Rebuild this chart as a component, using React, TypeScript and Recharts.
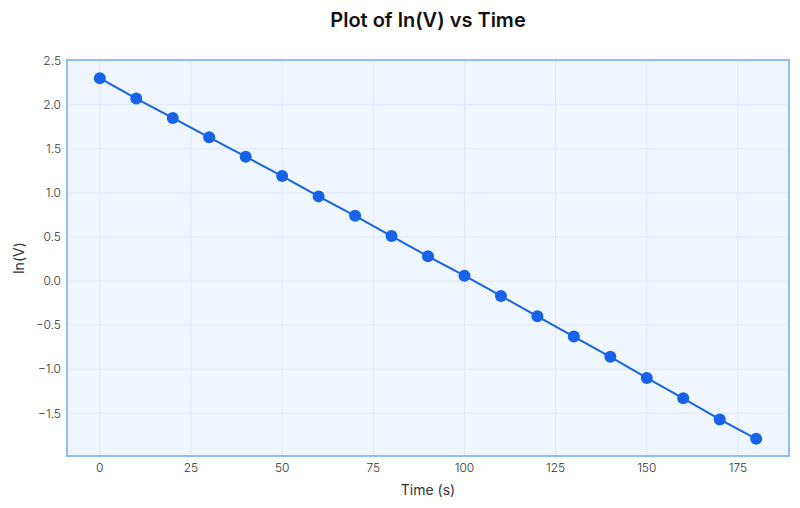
import React from 'react';
import { LineChart, Line, XAxis, YAxis, CartesianGrid, ReferenceArea, Label } from 'recharts';

const times = [0, 10, 20, 30, 40, 50, 60, 70, 80, 90, 100, 110, 120, 130, 140, 150, 160, 170, 180];
const lnV = [2.30, 2.07, 1.85, 1.63, 1.41, 1.19, 0.96, 0.74, 0.51, 0.28, 0.06, -0.17, -0.40, -0.63, -0.86, -1.10, -1.33, -1.57, -1.79];
const xTicks = [0, 25, 50, 75, 100, 125, 150, 175];
const yTicks = [-1.5, -1, -0.5, 0, 0.5, 1, 1.5, 2, 2.5];

const data = times.map((t, i) => ({ t, v: lnV[i] }));

const FONT = 'Inter, "Noto Sans", sans-serif';
const BLUE = '#1663e8';
const X_DOMAIN: [number, number] = [-9, 189];
const Y_DOMAIN: [number, number] = [-1.985, 2.507];

const fmtY = (v: number) => {
  const s = Math.abs(v).toFixed(1);
  return v < 0 ? '\u2212' + s : s;
};

export default function App() {
  return (
    <div style={{ position: 'absolute', left: 0, top: 0, width: 800, height: 508, background: '#fff', fontFamily: FONT }}>
      <div
        style={{
          position: 'absolute',
          left: 57,
          width: 742,
          top: 8,
          textAlign: 'center',
          fontSize: 20,
          fontWeight: 600,
          color: '#111',
          fontFamily: FONT,
        }}
      >
        Plot of ln(V) vs Time
      </div>
      <LineChart width={800} height={508} data={data} margin={{ top: 60, right: 11, bottom: 22, left: 17 }}>
        <CartesianGrid stroke="#dce8fb" strokeWidth={1} fill="#f0f6fe" horizontalValues={yTicks} verticalValues={xTicks} />
        <XAxis
          dataKey="t"
          type="number"
          domain={X_DOMAIN}
          ticks={xTicks}
          allowDataOverflow
          axisLine={false}
          tickLine={false}
          tickSize={0}
          tickMargin={7}
          height={30}
          tick={{ fontSize: 12, fill: '#333', fontFamily: FONT, fontWeight: 300 }}
        >
          <Label value="Time (s)" position="insideBottom" offset={-9} style={{ fontSize: 14, fill: '#333', fontFamily: FONT }} />
        </XAxis>
        <YAxis
          type="number"
          domain={Y_DOMAIN}
          ticks={yTicks}
          allowDataOverflow
          axisLine={false}
          tickLine={false}
          tickSize={0}
          tickMargin={6}
          width={50}
          tickFormatter={fmtY}
          tick={{ fontSize: 12, fill: '#333', fontFamily: FONT, fontWeight: 300 }}
        >
          <Label
            value="ln(V)"
            angle={-90}
            position="insideLeft"
            offset={2}
            style={{ fontSize: 14, fill: '#333', fontFamily: FONT, textAnchor: 'middle' }}
          />
        </YAxis>
        <ReferenceArea
          x1={X_DOMAIN[0]}
          x2={X_DOMAIN[1]}
          y1={Y_DOMAIN[0]}
          y2={Y_DOMAIN[1]}
          fill="none"
          stroke="#93bdf8"
          strokeWidth={2}
          ifOverflow="visible"
        />
        <Line
          type="linear"
          dataKey="v"
          stroke={BLUE}
          strokeWidth={2}
          dot={{ r: 6, fill: BLUE, stroke: BLUE, strokeWidth: 0 }}
          activeDot={false}
          isAnimationActive={false}
        />
      </LineChart>
    </div>
  );
}
